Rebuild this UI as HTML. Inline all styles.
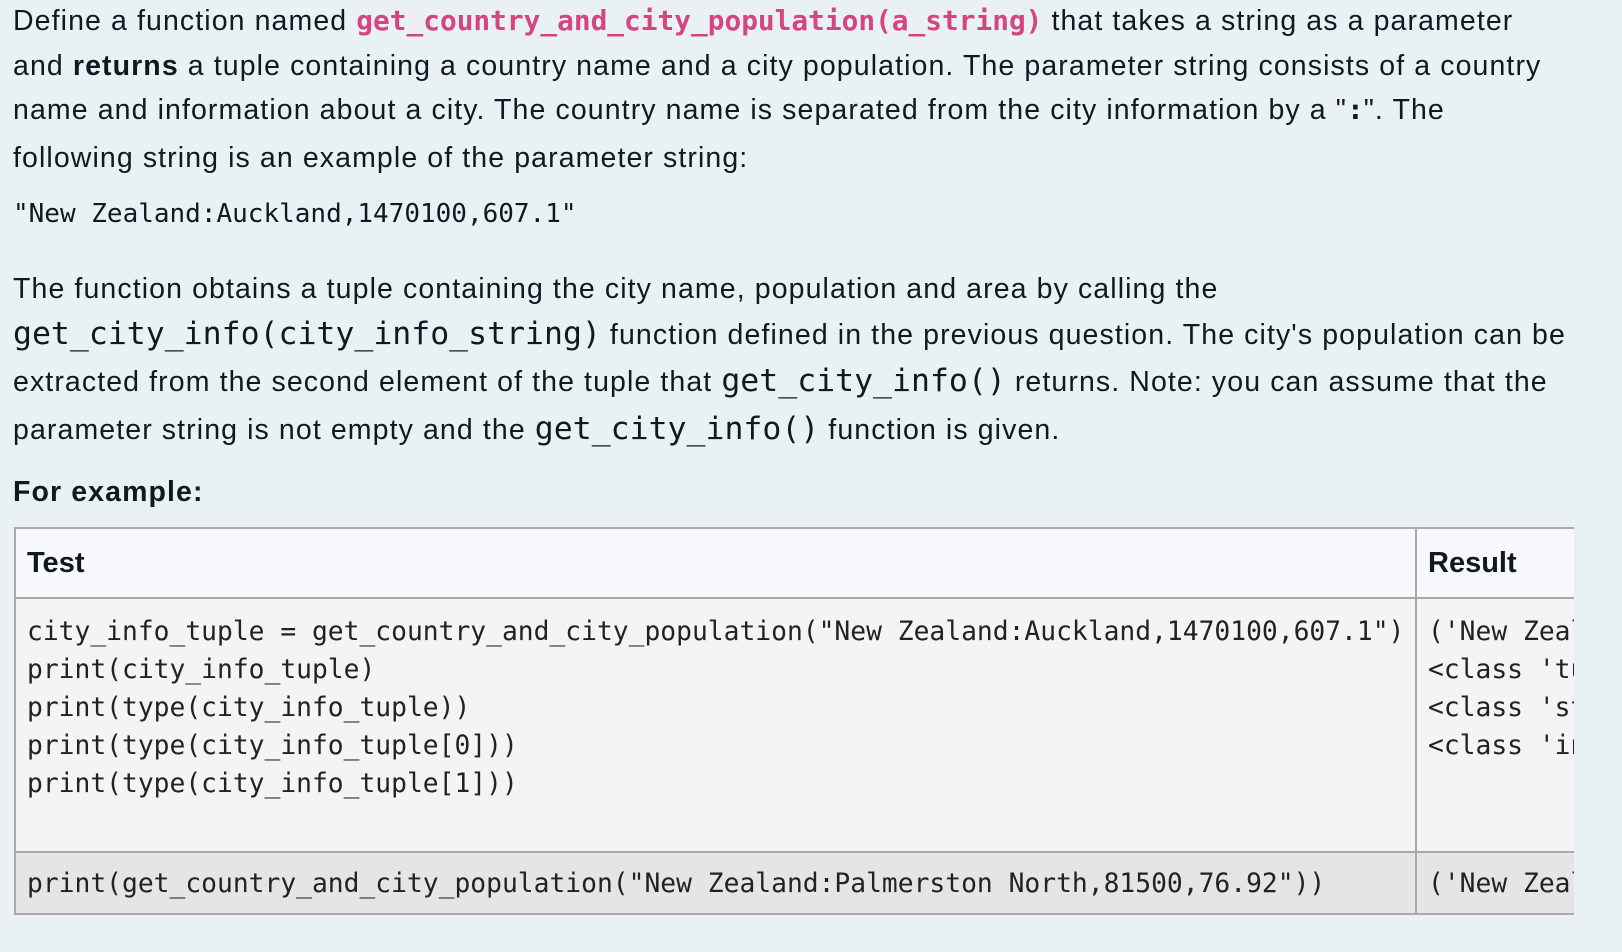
<!DOCTYPE html>
<html><head><style>
body{margin:0;width:1622px;height:952px;background:#e9f1f4;position:relative;overflow:hidden;font-family:"Liberation Sans",sans-serif;color:#0f1a1f;}
.l{position:absolute;left:13px;white-space:nowrap;font-size:28.5px;letter-spacing:1.1px;line-height:44px;}
code,.m{font-family:"DejaVu Sans Mono","Liberation Mono",monospace;letter-spacing:0;}
.l code{font-size:27.8px;}
.l code.b{font-size:31.5px;}
.pink{color:#d4467f;font-weight:bold;}
.tbl{position:absolute;left:14px;top:527px;width:1560px;height:388px;overflow:hidden;}
.c{position:absolute;box-sizing:border-box;border:2px solid #a9a9a9;}
.t{position:absolute;white-space:pre;font-family:"DejaVu Sans Mono","Liberation Mono",monospace;font-size:26.3px;line-height:38px;color:#222;}
</style></head><body>
<div class="l" style="top:-1px">Define a function named <code class="pink">get_country_and_city_population(a_string)</code> that takes a string as a parameter</div>
<div class="l" style="top:44px">and <b>returns</b> a tuple containing a country name and a city population. The parameter string consists of a country</div>
<div class="l" style="top:88px">name and information about a city. The country name is separated from the city information by a "<code><b>:</b></code>". The</div>
<div class="l" style="top:136px">following string is an example of the parameter string:</div>
<div class="l m" style="top:192px;font-size:26px">"New Zealand:Auckland,1470100,607.1"</div>
<div class="l" style="top:267px">The function obtains a tuple containing the city name, population and area by calling the</div>
<div class="l" style="top:312px"><code class="b">get_city_info(city_info_string)</code> function defined in the previous question. The city's population can be</div>
<div class="l" style="top:359px">extracted from the second element of the tuple that <code class="b">get_city_info()</code> returns. Note: you can assume that the</div>
<div class="l" style="top:407px">parameter string is not empty and the <code class="b">get_city_info()</code> function is given.</div>
<div class="l" style="top:470px"><b>For example:</b></div>
<div class="tbl">
<div class="c" style="left:0;top:0;width:1403px;height:72px;background:#f8f8fd"></div>
<div class="c" style="left:1401px;top:0;width:200px;height:72px;background:#f8f8fd"></div>
<div class="c" style="left:0;top:70px;width:1403px;height:256px;background:#f4f4f4"></div>
<div class="c" style="left:1401px;top:70px;width:200px;height:256px;background:#f4f4f4"></div>
<div class="c" style="left:0;top:324px;width:1403px;height:64px;background:#e5e5e5"></div>
<div class="c" style="left:1401px;top:324px;width:200px;height:64px;background:#e5e5e5"></div>
<div style="position:absolute;left:13px;top:18px;font-size:29px;font-weight:bold;line-height:36px">Test</div>
<div style="position:absolute;left:1414px;top:18px;font-size:29px;font-weight:bold;line-height:36px">Result</div>
<div class="t" style="left:13px;top:86px">city_info_tuple = get_country_and_city_population("New Zealand:Auckland,1470100,607.1")
print(city_info_tuple)
print(type(city_info_tuple))
print(type(city_info_tuple[0]))
print(type(city_info_tuple[1]))</div>
<div class="t" style="left:1414px;top:86px">('New Zealand', 1470100)
&lt;class 'tuple'&gt;
&lt;class 'str'&gt;
&lt;class 'int'&gt;</div>
<div class="t" style="left:13px;top:338px">print(get_country_and_city_population("New Zealand:Palmerston North,81500,76.92"))</div>
<div class="t" style="left:1414px;top:338px">('New Zealand', 81500)</div>
</div>
</body></html>
